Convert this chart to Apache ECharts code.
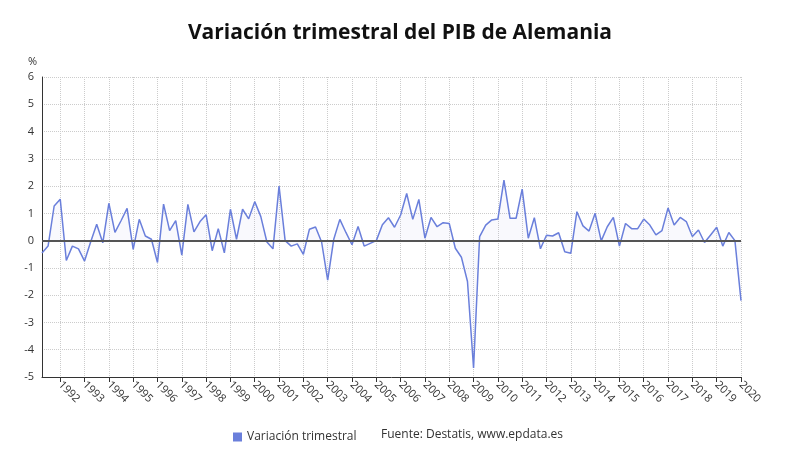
<!DOCTYPE html>
<html lang="es">
<head>
    <meta charset="UTF-8">
    <title>Variación trimestral del PIB de Alemania</title>
    <script src="https://cdn.jsdelivr.net/npm/echarts@6/dist/echarts.min.js"></script>
</head>
<body style="margin:0">
    <div id="box" style="width: 800px; height: 470px;background-color: white;"></div>
    <script>
        // trimestres desde 1991 T2 hasta 2020 T1
        var startYear = 1991, startQ = 2;
        var values = [
            -0.45, -0.2, 1.27, 1.52, -0.73, -0.2, -0.3, -0.75, -0.05, 0.6,
            -0.08, 1.37, 0.3, 0.73, 1.18, -0.32, 0.78, 0.17, 0.05, -0.8,
            1.34, 0.37, 0.73, -0.53, 1.33, 0.32, 0.7, 0.95, -0.37, 0.44,
            -0.45, 1.15, 0.05, 1.15, 0.8, 1.43, 0.88, -0.05, -0.3, 2.0,
            0.0, -0.2, -0.12, -0.5, 0.42, 0.5, -0.05, -1.45, 0.05, 0.78,
            0.3, -0.15, 0.52, -0.2, -0.1, 0.0, 0.58, 0.84, 0.49, 0.94,
            1.73, 0.78, 1.51, 0.09, 0.85, 0.51, 0.66, 0.63, -0.28, -0.61,
            -1.5, -4.67, 0.15, 0.57, 0.76, 0.79, 2.22, 0.82, 0.82, 1.89,
            0.09, 0.84, -0.3, 0.2, 0.17, 0.29, -0.41, -0.46, 1.06, 0.54,
            0.35, 1.0, -0.01, 0.51, 0.85, -0.2, 0.63, 0.44, 0.44, 0.79,
            0.57, 0.21, 0.37, 1.2, 0.57, 0.85, 0.7, 0.15, 0.39, -0.07,
            0.21, 0.49, -0.2, 0.3, 0.0, -2.2
        ];
        var quarters = values.map(function (v, i) {
            var q = startQ - 1 + i;
            return (startYear + Math.floor(q / 4)) + ' T' + (q % 4 + 1);
        });
        var isYearStart = function (i) { return /T1$/.test(quarters[i]); };

        var myEcharts = echarts.init(document.getElementById("box"));
        var option = {
            animation: false,
            textStyle: { fontFamily: 'Open Sans' },
            title: {
                text: 'Variación trimestral del PIB de Alemania',
                left: 'center',
                top: 18,
                textStyle: { fontSize: 21, fontWeight: 'bold', color: '#111' }
            },
            legend: {
                bottom: 22,
                left: 228,
                icon: 'rect',
                itemWidth: 9,
                itemHeight: 9,
                textStyle: { fontSize: 12, color: '#333' },
                data: ['Variación trimestral']
            },
            graphic: [
                { type: 'text', left: 381, top: 429, style: { text: 'Fuente: Destatis, www.epdata.es', fontSize: 12, fill: '#333', fontFamily: 'Open Sans' } },
                { type: 'text', left: 28, top: 56, style: { text: '%', fontSize: 11, fill: '#333', fontFamily: 'Open Sans' } }
            ],
            grid: { left: 42, right: 59, top: 77, bottom: 93 },
            xAxis: {
                type: 'category',
                boundaryGap: false,
                data: quarters,
                axisLine: { onZero: false, lineStyle: { color: '#333' } },
                axisTick: { interval: function (i) { return isYearStart(i); }, lineStyle: { color: '#333' } },
                axisLabel: {
                    interval: function (i) { return isYearStart(i); },
                    formatter: function (v) { return v.slice(0, 4); },
                    rotate: -45,
                    fontSize: 11,
                    color: '#333',
                    margin: 6
                },
                splitLine: {
                    show: true,
                    interval: function (i) { return isYearStart(i); },
                    lineStyle: { color: '#ccc', type: 'dotted' }
                }
            },
            yAxis: {
                type: 'value',
                min: -5,
                max: 6,
                interval: 1,
                axisLine: { show: true, lineStyle: { color: '#333' } },
                axisLabel: { fontSize: 11, color: '#333' },
                splitLine: { lineStyle: { color: '#ccc', type: 'dotted' } }
            },
            series: [{
                name: 'Variación trimestral',
                type: 'line',
                data: values,
                symbol: 'none',
                color: '#6a7fdb',
                lineStyle: { width: 1.5, color: '#6a7fdb' },
                areaStyle: { color: 'rgba(106,127,219,0.06)' },
                markLine: {
                    silent: true,
                    symbol: 'none',
                    label: { show: false },
                    lineStyle: { color: '#555', type: 'solid', width: 2 },
                    data: [{ yAxis: 0 }]
                }
            }]
        };
        myEcharts.setOption(option);
    </script>
</body>
</html>
